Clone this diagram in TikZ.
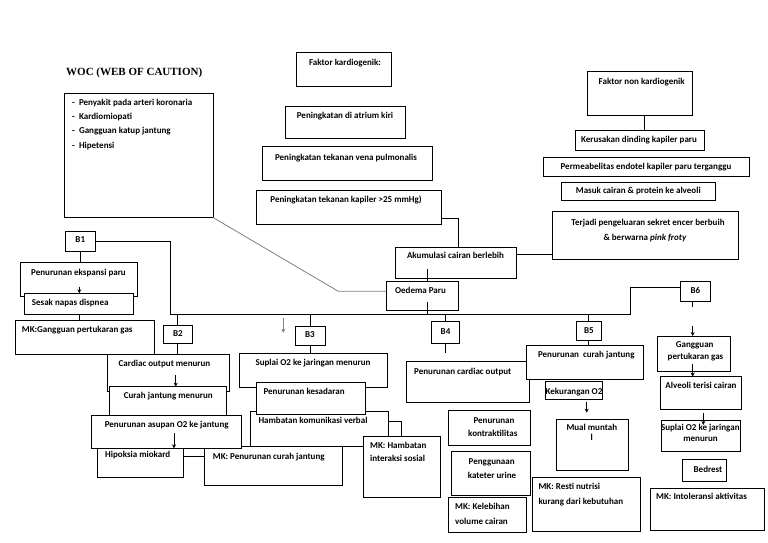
\documentclass[tikz,border=0pt]{standalone}
\usepackage{fontspec}
\setmainfont{Carlito}
\newfontfamily\titlefont{Liberation Serif}
\usetikzlibrary{arrows.meta}
\newcommand\mybox[5]{\node[box, minimum width={(#4-#2)*1pt}, minimum height={(#5-#3)*1pt}] (#1) at ({(#2+#4)/2},{(#3+#5)/2}) {};}
\newcommand\tcen[4]{\node[txt, anchor=mid] (#1) at (#2,#3) {#4};}
\newcommand\tlft[4]{\node[txt, anchor=mid west] (#1) at (#2,#3) {#4};}
\begin{document}
\begin{tikzpicture}[x=1pt,y=-1pt,
  box/.style={draw=black, line width=0.8pt, fill=white, inner sep=0pt, outer sep=0pt},
  txt/.style={inner sep=0pt, font=\fontsize{9}{10}\selectfont\bfseries},
  ln/.style={draw=black, line width=0.8pt},
  arr/.style={ln, -{Stealth[length=4pt,width=4pt]}},
]
\useasboundingbox (0,0) rectangle (768,543);
\fill[white] (0,0) rectangle (768,543);

% title and list
\node[inner sep=0pt, anchor=mid west, font=\titlefont\fontsize{11}{12}\selectfont\bfseries] (title) at (66,72.7) {WOC (WEB OF CAUTION)};
\mybox{risk}{64}{93}{213}{217}
\tlft{r1}{72}{102.7}{-\ \ Penyakit pada arteri koronaria}
\tlft{r2}{72}{117}{-\ \ Kardiomiopati}
\tlft{r3}{72}{131.5}{-\ \ Gangguan katup jantung}
\tlft{r4}{72}{146}{-\ \ Hipetensi}

% kardiogenik column
\mybox{fk}{296}{52.7}{391.7}{86}
\tcen{fkt}{345}{62.7}{Faktor kardiogenik:}
\mybox{atr}{285}{106}{405.7}{138}
\tcen{atrt}{345}{116}{Peningkatan di atrium kiri}
\mybox{ven}{262}{146.7}{432}{180}
\tcen{vent}{346}{158}{Peningkatan tekanan vena pulmonalis}
\mybox{kap}{256}{190}{441}{224}
\tcen{kapt}{346}{200}{Peningkatan tekanan kapiler >25 mmHg)}

% non kardiogenik column
\mybox{fnk}{587.3}{71.7}{692.3}{115}
\tcen{fnkt}{641.7}{81.7}{Faktor non kardiogenik}
\mybox{ker}{575}{130}{704}{150}
\tcen{kert}{639}{140}{Kerusakan dinding kapiler paru}
\mybox{per}{543.3}{157.3}{749.3}{176}
\tcen{pert}{646}{166.7}{Permeabelitas endotel kapiler paru terganggu}
\mybox{mas}{561.7}{182.7}{715}{200}
\tcen{mast}{638.3}{191}{Masuk cairan \& protein ke alveoli}
\mybox{ter}{552.7}{211.7}{738.3}{259.3}
\tcen{tert1}{648}{223.3}{Terjadi pengeluaran sekret encer berbuih}
\tcen{tert2}{645}{238.3}{\& berwarna \textit{pink froty}}

% center
\mybox{aku}{395.5}{247}{516}{278}
\tcen{akut}{455.5}{256}{Akumulasi cairan berlebih}
\mybox{oed}{386.7}{281}{458}{310.7}
\tcen{oedt}{420.5}{290.7}{Oedema Paru}

% B boxes
\mybox{b1}{65}{231}{95.7}{251}
\tcen{b1t}{80.3}{240.5}{B1}
\mybox{b2}{163}{325.7}{192.7}{343}
\tcen{b2t}{177.9}{334.3}{B2}
\mybox{b3}{295}{326}{325}{345}
\tcen{b3t}{310}{335.5}{B3}
\mybox{b4}{431.7}{321.7}{459.3}{343}
\tcen{b4t}{445.5}{332}{B4}
\mybox{b5}{576}{321.7}{601.7}{340.7}
\tcen{b5t}{588.9}{331}{B5}
\mybox{b6}{680.7}{281}{710}{301.7}
\tcen{b6t}{695.4}{291}{B6}

% B1 column
\mybox{eks}{20.7}{262.7}{137.7}{296}
\tcen{ekst}{78.5}{273.3}{Penurunan ekspansi paru}
\mybox{ses}{24}{293.3}{133.3}{314.3}
\tlft{sest}{31.7}{303.3}{Sesak napas dispnea}
\mybox{mk1}{15.7}{320.7}{154.3}{354}
\tlft{mk1t}{21.7}{330}{MK:Gangguan pertukaran gas}

% B2 column
\mybox{co}{107.7}{354}{229.3}{391.7}
\tcen{cot}{164.5}{364}{Cardiac output menurun}
\mybox{cj}{109.3}{386.7}{226.7}{415}
\tcen{cjt}{168.3}{396}{Curah jantung menurun}
\mybox{mk2}{204}{446.7}{342.7}{485.7}
\tlft{mk2t}{212.7}{456.7}{MK: Penurunan curah jantung}
\mybox{asu}{91.7}{415}{241.7}{448.3}
\tcen{asut}{166.7}{425}{Penurunan asupan O2 ke jantung}
\mybox{hip}{97.3}{448.3}{183.3}{477.3}
\tlft{hipt}{105}{455.5}{Hipoksia miokard}

% B3 column
\mybox{sup}{239.3}{353.3}{387.7}{387.7}
\tcen{supt}{313}{363.3}{Suplai O2 ke jaringan menurun}
\mybox{hkv}{250.7}{411.7}{388.3}{446}
\tlft{hkvt}{258.3}{421}{Hambatan komunikasi verbal}
\mybox{kes}{256}{382.7}{365}{414}
\tlft{kest}{263.3}{391.7}{Penurunan kesadaran}
\mybox{mk3}{363.3}{436.7}{440}{497}
\tlft{mk3t1}{370}{446}{MK: Hambatan}
\tlft{mk3t2}{370}{459}{interaksi sosial}

% B4 column
\mybox{pco}{406.7}{361.7}{529.3}{402.3}
\tlft{pcot}{414}{372.3}{Penurunan cardiac output}
\mybox{kon}{448.3}{410.7}{530}{445}
\tcen{kont1}{494}{421}{Penurunan}
\tcen{kont2}{492.8}{434.3}{kontraktilitas}
\mybox{kat}{451.7}{451.7}{530.7}{495}
\tcen{katt1}{491.7}{461.7}{Penggunaan}
\tcen{katt2}{492}{476}{kateter urine}
\mybox{mk4}{448.3}{497.3}{526}{532.7}
\tlft{mk4t1}{455}{506.7}{MK: Kelebihan}
\tlft{mk4t2}{455}{521.7}{volume cairan}

% B5 column
\mybox{pcj}{526.7}{345}{643}{379.3}
\tcen{pcjt}{586.3}{355}{Penurunan\ \ curah jantung}
\mybox{kek}{545.7}{381.7}{602.7}{399.3}
\tcen{kekt}{574}{392}{Kekurangan O2}
\mybox{mua}{556.7}{419}{628.3}{470}
\tcen{muat}{591.8}{428}{Mual muntah}
\tcen{muat2}{591.7}{438.5}{l}
\mybox{mk5}{532.3}{477.3}{640.7}{531}
\tlft{mk5t1}{538.3}{486.7}{MK: Resti nutrisi}
\tlft{mk5t2}{538.3}{501.7}{kurang dari kebutuhan}

% B6 column
\mybox{gpg}{657.3}{336}{730}{371.7}
\tcen{gpgt1}{694.7}{345}{Gangguan}
\tcen{gpgt2}{695.5}{357.3}{pertukaran gas}
\mybox{alv}{660}{376.7}{741.7}{409.3}
\tcen{alvt}{701}{386}{Alveoli terisi cairan}
\mybox{sp6}{661}{420}{740.7}{451}
\tcen{sp6t1}{700.3}{428.3}{Suplai O2 ke jaringan}
\tcen{sp6t2}{700.5}{439}{menurun}
\mybox{bed}{682.3}{459.3}{726}{481}
\tcen{bedt}{708}{470}{Bedrest}
\mybox{mk6}{650}{488.3}{764}{530}
\tlft{mk6t}{656}{496.7}{MK: Intoleransi aktivitas}

% junction coordinates
\coordinate (mainL) at (170.7,314);
\coordinate (mainR) at (630,314);
\coordinate (kapj) at (458,218.7);
\coordinate (hkvj) at (401.7,421.7);
\coordinate (diagA) at (213,217.5);
\coordinate (diagB) at (338.3,291.3);

% connectors
\draw[ln] (b1.east) -| (mainL) -- (mainR) |- ([yshift=4pt]b6.west);
\draw[ln] (b1.south) -- (eks.north -| b1.south);
\draw[arr] (79.3,286.7) -- (ses.north -| 79.3,0);
\draw[ln] (ses.south -| 79.3,0) -- (mk1.north -| 79.3,0);
\draw[ln] (b2.north) -- (b2.north |- mainL);
\draw[ln] (b2.south) -- (b2.south |- co.north);
\draw[arr] (175.7,375) -- (cj.north -| 175.7,0);
\draw[arr] (174,433.3) -- (hip.north -| 174,0);
\draw[ln] (hip.east |- mk2t) -- (mk2.west |- mk2t);
\draw[ln] (b3.north) -- (b3.north |- mainL);
\draw[ln] (b3.south) -- (b3.south |- sup.north);
\draw[arr, draw=gray] (283.3,317.7) -- (283.3,332.7);
\draw[ln] (hkv.east |- hkvj) -- (hkvj) -- (hkvj |- mk3.north);
\draw[ln] (b4.north) -- (b4.north |- mainL);
\draw[ln] (b4.south) -- ++(0,10.3);
\draw[ln] (b5.north) -- (b5.north |- mainL);
\draw[ln] (b5.south) -- (b5.south |- pcj.north);
\draw[arr] (586.7,401.7) -- (586.7,412.7);
\draw[ln] (b6.south -| 692.7,0) -- ++(0,5);
\draw[arr] (692.7,326) -- (gpg.north -| 692.7,0);
\draw[arr] (692.7,364) -- (alv.north -| 692.7,0);
\draw[arr] (703.3,413) -- (703.3,425);
\draw[ln] (fnk.south -| 644,0) -- (ker.north -| 644,0);
\draw[ln] (kap.east |- kapj) -- (kapj) -- (kapj |- aku.north);
\draw[ln] (aku.east |- 0,254) -- (ter.west |- 0,254);
\draw[ln] (427,269) -- (oed.north -| 427,0);
\draw[ln] (427,301.7) -- (mainL -| 427,0);
\draw[line width=0.8pt, draw=gray] (diagA) -- (diagB) -- (oed.west |- diagB);
\end{tikzpicture}
\end{document}
